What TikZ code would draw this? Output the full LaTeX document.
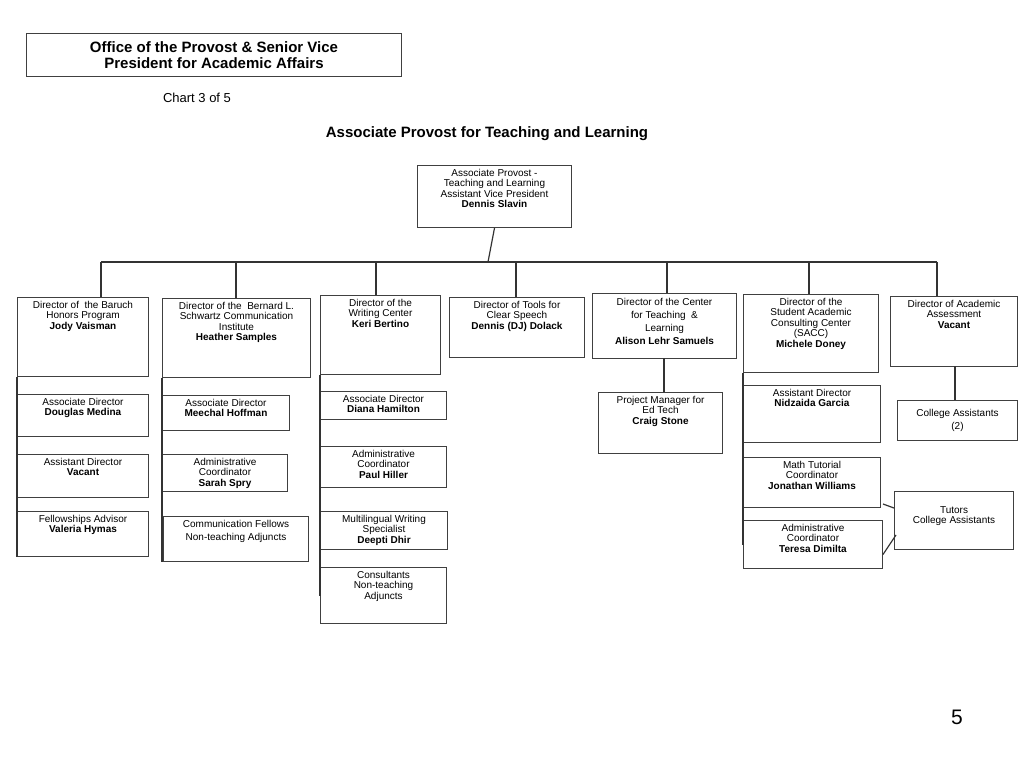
\documentclass[tikz,border=0pt]{standalone}
\usepackage{fontspec}
\setmainfont{Liberation Sans}
\begin{document}
\begin{tikzpicture}[x=1pt,y=-1pt,
  frame/.style={draw=black!75,line width=1pt,inner sep=0pt},
  txt/.style={anchor=north,align=center,font=\fontsize{10}{10.5}\selectfont,inner sep=0pt},
  ln/.style={draw=black!80,line width=1.2pt}]
\useasboundingbox (0,0) rectangle (1024,768);
\newcommand\bx[6]{%
  \node[frame,anchor=north west,minimum width=#4-#2,minimum height=#5-#3] (#1) at (#2,#3) {};
  \node[txt] (#1t) at ([yshift=-4pt]#1.north) {#6};}
% title
\node[frame,anchor=north west,minimum width=375,minimum height=43,align=center,font=\fontsize{15}{16}\selectfont\bfseries] (title) at (26,33) {Office of the Provost \& Senior Vice\\President for Academic Affairs};
\node[font=\fontsize{13}{14}\selectfont] (chart) at (197,98) {Chart 3 of 5};
\node[font=\fontsize{15}{16}\selectfont\bfseries] (head) at (487,134) {Associate Provost for Teaching and Learning};
\node[font=\fontsize{21}{22}\selectfont] (pg) at (957,717) {5};
% top
\bx{top}{417}{165}{571}{227}{Associate Provost -\\Teaching and Learning\\Assistant Vice President\\\textbf{Dennis Slavin}}
% directors
\bx{d1}{17}{297}{148}{376}{Director of \ the Baruch\\Honors Program\\\textbf{Jody Vaisman}}
\bx{d2}{162}{298}{310}{377}{Director of the \ Bernard L.\\Schwartz Communication\\Institute\\\textbf{Heather Samples}}
\bx{d3}{320}{295}{440}{374}{Director of the\\Writing Center\\\textbf{Keri Bertino}}
\bx{d4}{449}{297}{584}{357}{Director of Tools for\\Clear Speech\\\textbf{Dennis (DJ) Dolack}}
\node[frame,anchor=north west,minimum width=144,minimum height=65] (d5) at (592,293) {};
\node[txt,font=\fontsize{10}{13}\selectfont] (d5t) at ([yshift=-5pt]d5.north) {Director of the Center\\for Teaching \ \&\\Learning\\\textbf{Alison Lehr Samuels}};
\bx{d6}{743}{294}{878}{372}{Director of the\\Student Academic\\Consulting Center\\(SACC)\\\textbf{Michele Doney}}
\bx{d7}{890}{296}{1017}{366}{Director of Academic\\Assessment\\\textbf{Vacant}}
% column 1
\bx{a1}{17}{394}{148}{436}{Associate Director\\\textbf{Douglas Medina}}
\bx{a2}{17}{454}{148}{497}{Assistant Director\\\textbf{Vacant}}
\bx{a3}{17}{511}{148}{556}{Fellowships Advisor\\\textbf{Valeria Hymas}}
% column 2
\bx{b1}{162}{395}{289}{430}{Associate Director\\\textbf{Meechal Hoffman}}
\bx{b2}{162}{454}{287}{491}{Administrative\\Coordinator\\\textbf{Sarah Spry}}
\node[frame,anchor=north west,minimum width=145,minimum height=45] (b3) at (163,516) {};
\node[txt,font=\fontsize{10}{13.5}\selectfont] (b3t) at ([yshift=-4pt]b3.north) {Communication Fellows\\Non-teaching Adjuncts};
% column 3
\bx{c1}{320}{391}{446}{419}{Associate Director\\\textbf{Diana Hamilton}}
\bx{c2}{320}{446}{446}{487}{Administrative\\Coordinator\\\textbf{Paul Hiller}}
\bx{c3}{320}{511}{447}{549}{Multilingual Writing\\Specialist\\\textbf{Deepti Dhir}}
\bx{c4}{320}{567}{446}{623}{Consultants\\Non-teaching\\Adjuncts}
% others
\bx{e1}{598}{392}{722}{453}{Project Manager for\\Ed Tech\\\textbf{Craig Stone}}
\bx{f1}{743}{385}{880}{442}{Assistant Director\\\textbf{Nidzaida Garcia}}
\bx{f2}{743}{457}{880}{507}{Math Tutorial\\Coordinator\\\textbf{Jonathan Williams}}
\bx{f3}{743}{520}{882}{568}{Administrative\\Coordinator\\\textbf{Teresa Dimilta}}
\node[frame,anchor=north west,minimum width=120,minimum height=40,align=center,font=\fontsize{10}{13.5}\selectfont] (g1) at (897,400) {College Assistants\\(2)};
\node[frame,anchor=north west,minimum width=119,minimum height=58] (tut) at (894,491) {};
\node[txt] (tutt) at ([yshift=-15pt]tut.north) {Tutors\\College Assistants};
% connectors
\coordinate (busL) at (101,262);
\coordinate (busR) at (937,262);
\draw[ln] (busL) -- (busR);
\draw[ln] (top.south) -- (488,262);
\foreach \d/\x in {d1/101,d2/236,d3/376,d4/516,d5/667,d6/809,d7/937}
  \draw[ln] (\x,262) -- (\x,0 |- \d.north);
\draw[ln] (d1.south west) -- (a3.south west);
\draw[ln] (d2.south west) -- (b3.south west -| d2.west);
\draw[ln] (d3.south west) -- (c4.west);
\draw[ln] (d6.south west) -- (f3.west);
\draw[ln] (664,358) -- (e1.north -| 664,0);
\draw[ln] (955,366) -- (g1.north -| 955,0);
\draw[ln] (f2.south east) ++(2,-4) -- (tut.west |- 0,508);
\draw[ln] (f3.east) ++(0,10) -- (896,535);
\end{tikzpicture}
\end{document}
